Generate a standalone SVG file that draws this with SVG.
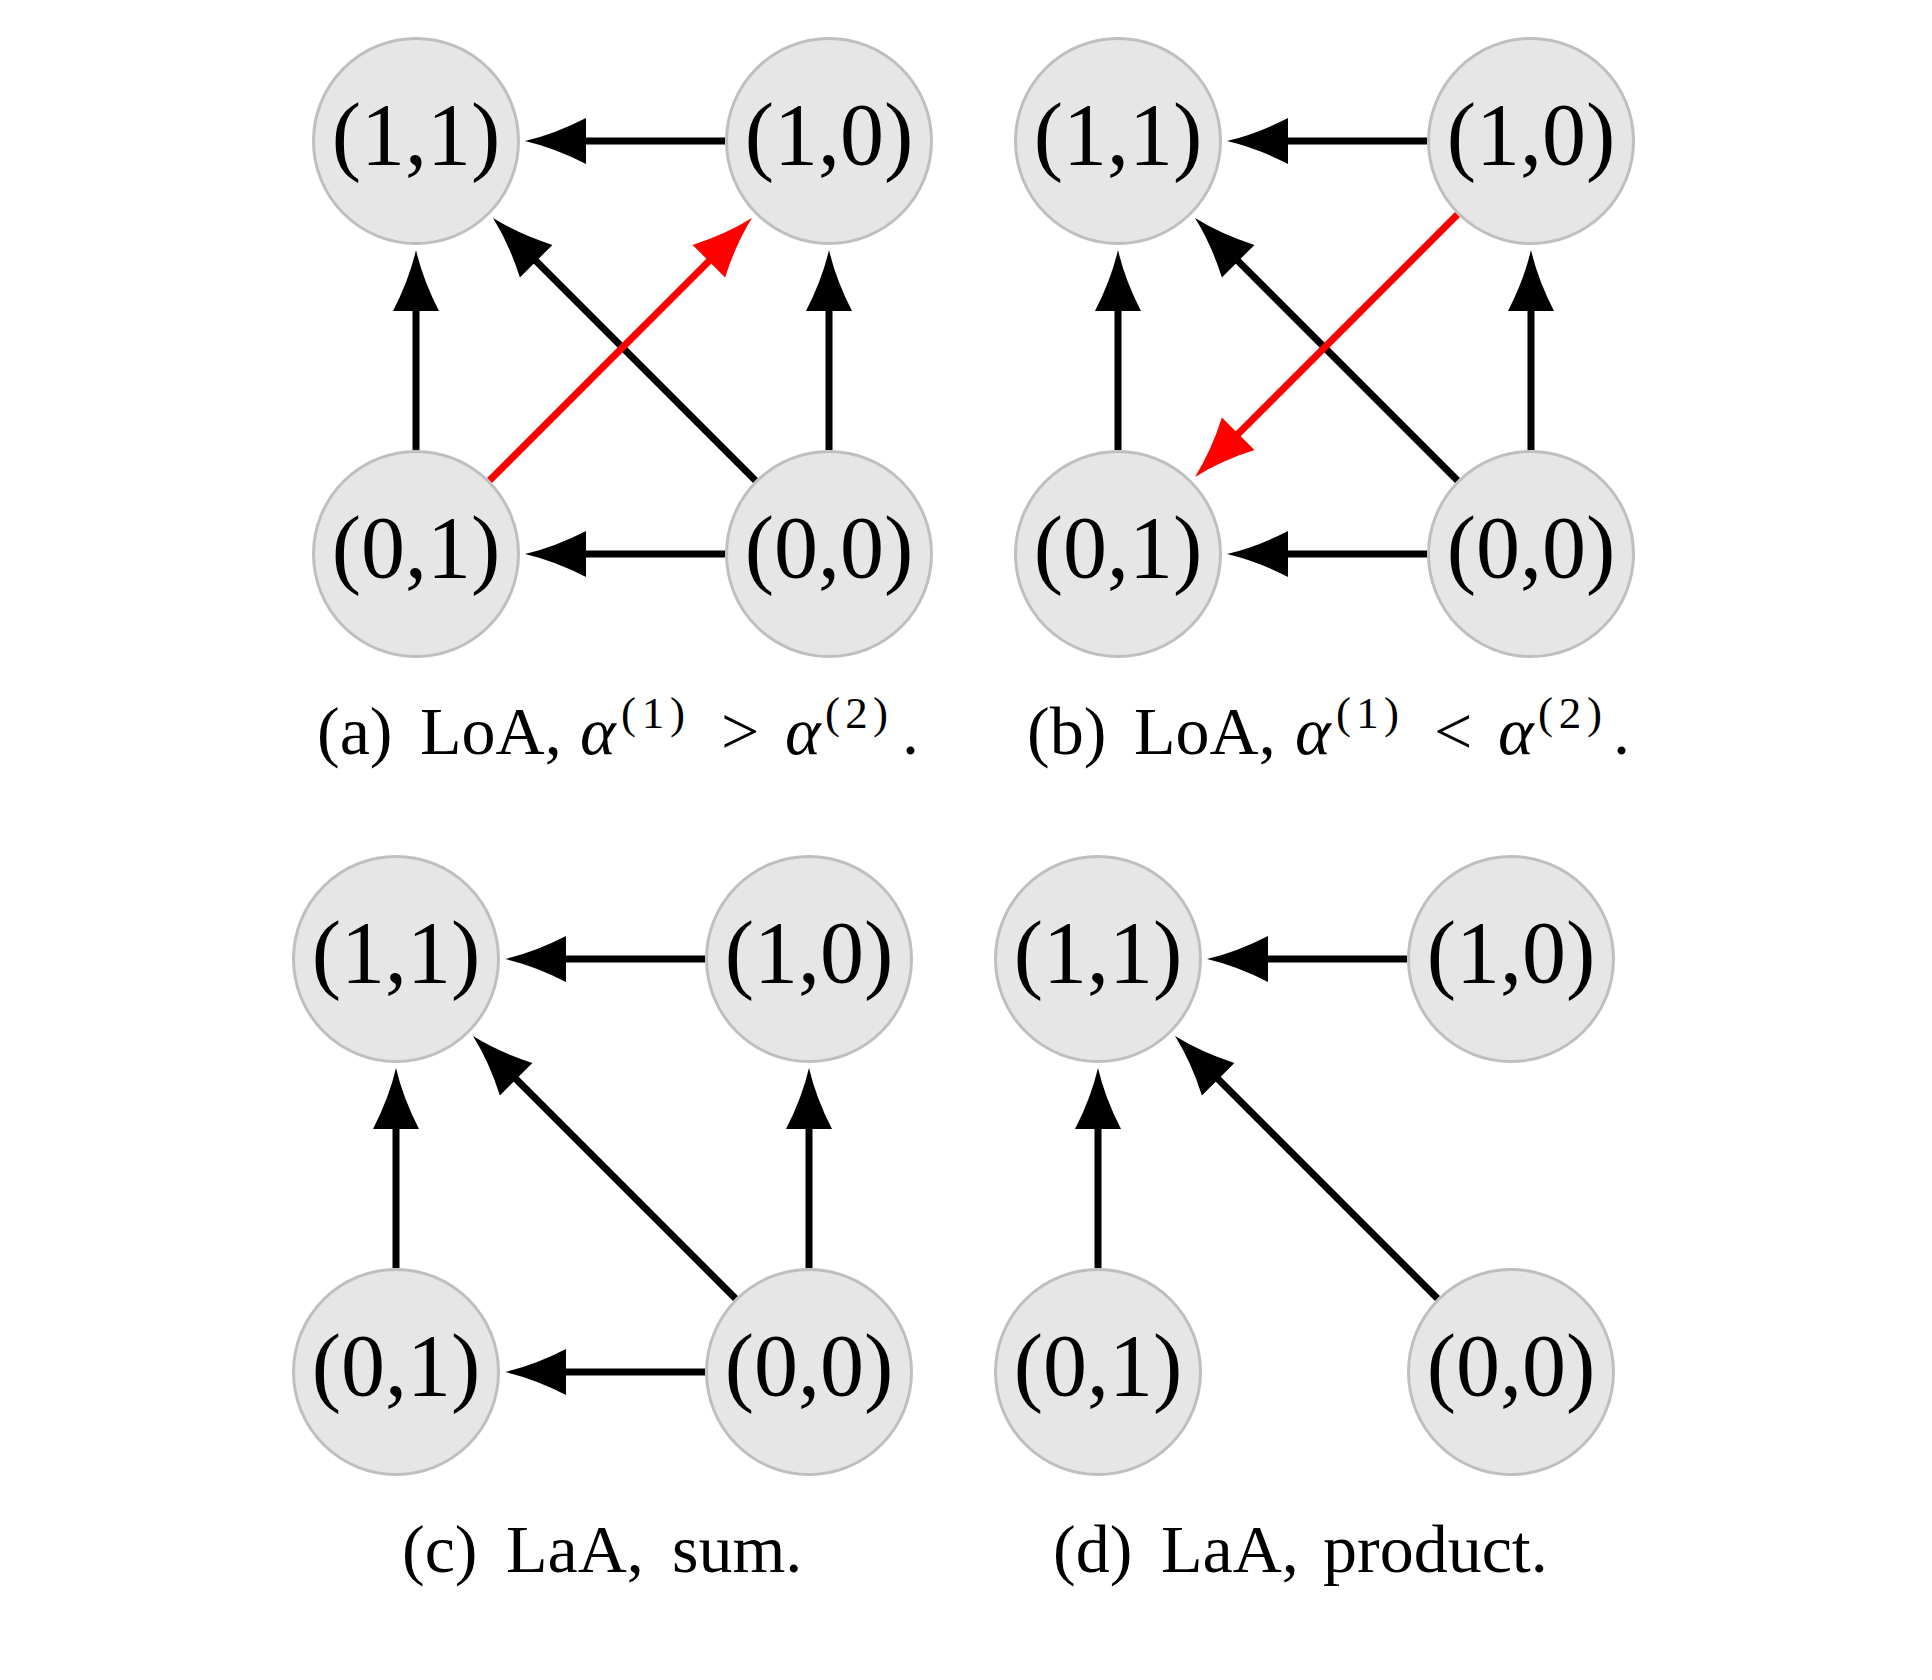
<svg xmlns="http://www.w3.org/2000/svg" width="1932" height="1680" viewBox="0 0 1932 1680">
<style>
.node circle{fill:#e6e6e6;stroke:#bfbfbf;stroke-width:3}
.node text{font-family:"Liberation Serif","Times New Roman",serif;font-size:88px;text-anchor:middle;fill:#000}
.edge{fill:none;stroke:#000;stroke-width:7;marker-end:url(#ah)}
.edge.red{stroke:#ff0000;marker-end:url(#ahr)}
.cap{font-family:"Liberation Serif","Times New Roman",serif;font-size:68px;fill:#000}
.mi{font-style:italic}
.sup{font-size:45px}
</style>
<defs>
<marker id="ah" markerUnits="userSpaceOnUse" orient="auto" refX="0" refY="0" markerWidth="200" markerHeight="200" overflow="visible">
<path d="M52,0 Q22,-7 -9,-23 L-9,23 Q22,7 52,0 Z" fill="#000"/>
</marker>
<marker id="ahr" markerUnits="userSpaceOnUse" orient="auto" refX="0" refY="0" markerWidth="200" markerHeight="200" overflow="visible">
<path d="M52,0 Q22,-7 -9,-23 L-9,23 Q22,7 52,0 Z" fill="#ff0000"/>
</marker>
</defs>
<rect width="1932" height="1680" fill="#fff"/>

<g id="connectors">
<!-- panel a -->
<path class="edge" d="M725,141 L577,141"/>
<path class="edge" d="M725,554 L577,554"/>
<path class="edge" d="M416,450 L416,302"/>
<path class="edge" d="M829,450 L829,302"/>
<path class="edge" d="M755.5,480.5 L529.8,254.8"/>
<path class="edge red" d="M489.5,480.5 L715.2,254.8"/>
<!-- panel b -->
<path class="edge" d="M1427,141 L1279,141"/>
<path class="edge" d="M1427,554 L1279,554"/>
<path class="edge" d="M1118,450 L1118,302"/>
<path class="edge" d="M1531,450 L1531,302"/>
<path class="edge" d="M1457.5,480.5 L1231.8,254.8"/>
<path class="edge red" d="M1457.5,214.5 L1231.8,440.2"/>
<!-- panel c -->
<path class="edge" d="M705,959 L557,959"/>
<path class="edge" d="M705,1372 L557,1372"/>
<path class="edge" d="M396,1268 L396,1120"/>
<path class="edge" d="M809,1268 L809,1120"/>
<path class="edge" d="M735.5,1298.5 L509.8,1072.8"/>
<!-- panel d -->
<path class="edge" d="M1407,959 L1259,959"/>
<path class="edge" d="M1098,1268 L1098,1120"/>
<path class="edge" d="M1437.5,1298.5 L1211.8,1072.8"/>
</g>

<g id="a11" class="node"><circle cx="416" cy="141" r="102.5"/><text x="416" y="164">(1,1)</text></g>
<g id="a10" class="node"><circle cx="829" cy="141" r="102.5"/><text x="829" y="164">(1,0)</text></g>
<g id="a01" class="node"><circle cx="416" cy="554" r="102.5"/><text x="416" y="577">(0,1)</text></g>
<g id="a00" class="node"><circle cx="829" cy="554" r="102.5"/><text x="829" y="577">(0,0)</text></g>

<g id="b11" class="node"><circle cx="1118" cy="141" r="102.5"/><text x="1118" y="164">(1,1)</text></g>
<g id="b10" class="node"><circle cx="1531" cy="141" r="102.5"/><text x="1531" y="164">(1,0)</text></g>
<g id="b01" class="node"><circle cx="1118" cy="554" r="102.5"/><text x="1118" y="577">(0,1)</text></g>
<g id="b00" class="node"><circle cx="1531" cy="554" r="102.5"/><text x="1531" y="577">(0,0)</text></g>

<g id="c11" class="node"><circle cx="396" cy="959" r="102.5"/><text x="396" y="982">(1,1)</text></g>
<g id="c10" class="node"><circle cx="809" cy="959" r="102.5"/><text x="809" y="982">(1,0)</text></g>
<g id="c01" class="node"><circle cx="396" cy="1372" r="102.5"/><text x="396" y="1395">(0,1)</text></g>
<g id="c00" class="node"><circle cx="809" cy="1372" r="102.5"/><text x="809" y="1395">(0,0)</text></g>

<g id="d11" class="node"><circle cx="1098" cy="959" r="102.5"/><text x="1098" y="982">(1,1)</text></g>
<g id="d10" class="node"><circle cx="1511" cy="959" r="102.5"/><text x="1511" y="982">(1,0)</text></g>
<g id="d01" class="node"><circle cx="1098" cy="1372" r="102.5"/><text x="1098" y="1395">(0,1)</text></g>
<g id="d00" class="node"><circle cx="1511" cy="1372" r="102.5"/><text x="1511" y="1395">(0,0)</text></g>

<g id="caption-a" class="cap">
<text x="317" y="754">(a)</text>
<text x="420" y="754">LoA,</text>
<text class="mi" x="580" y="754">α</text>
<text class="sup" x="621" y="728" textLength="64" lengthAdjust="spacing">(1)</text>
<text x="721" y="754">&gt;</text>
<text class="mi" x="785" y="754">α</text>
<text class="sup" x="825" y="728" textLength="63" lengthAdjust="spacing">(2)</text>
<text x="902" y="754">.</text>
</g>
<g id="caption-b" class="cap">
<text x="1027" y="754">(b)</text>
<text x="1134" y="754">LoA,</text>
<text class="mi" x="1295" y="754">α</text>
<text class="sup" x="1336" y="728" textLength="63" lengthAdjust="spacing">(1)</text>
<text x="1434" y="754">&lt;</text>
<text class="mi" x="1498" y="754">α</text>
<text class="sup" x="1538" y="728" textLength="64" lengthAdjust="spacing">(2)</text>
<text x="1613" y="754">.</text>
</g>
<g id="caption-c" class="cap">
<text x="402" y="1572">(c)</text>
<text x="506" y="1572">LaA,</text>
<text x="672" y="1572">sum.</text>
</g>
<g id="caption-d" class="cap">
<text x="1053" y="1572">(d)</text>
<text x="1161" y="1572">LaA,</text>
<text x="1323" y="1572">product.</text>
</g>
</svg>
